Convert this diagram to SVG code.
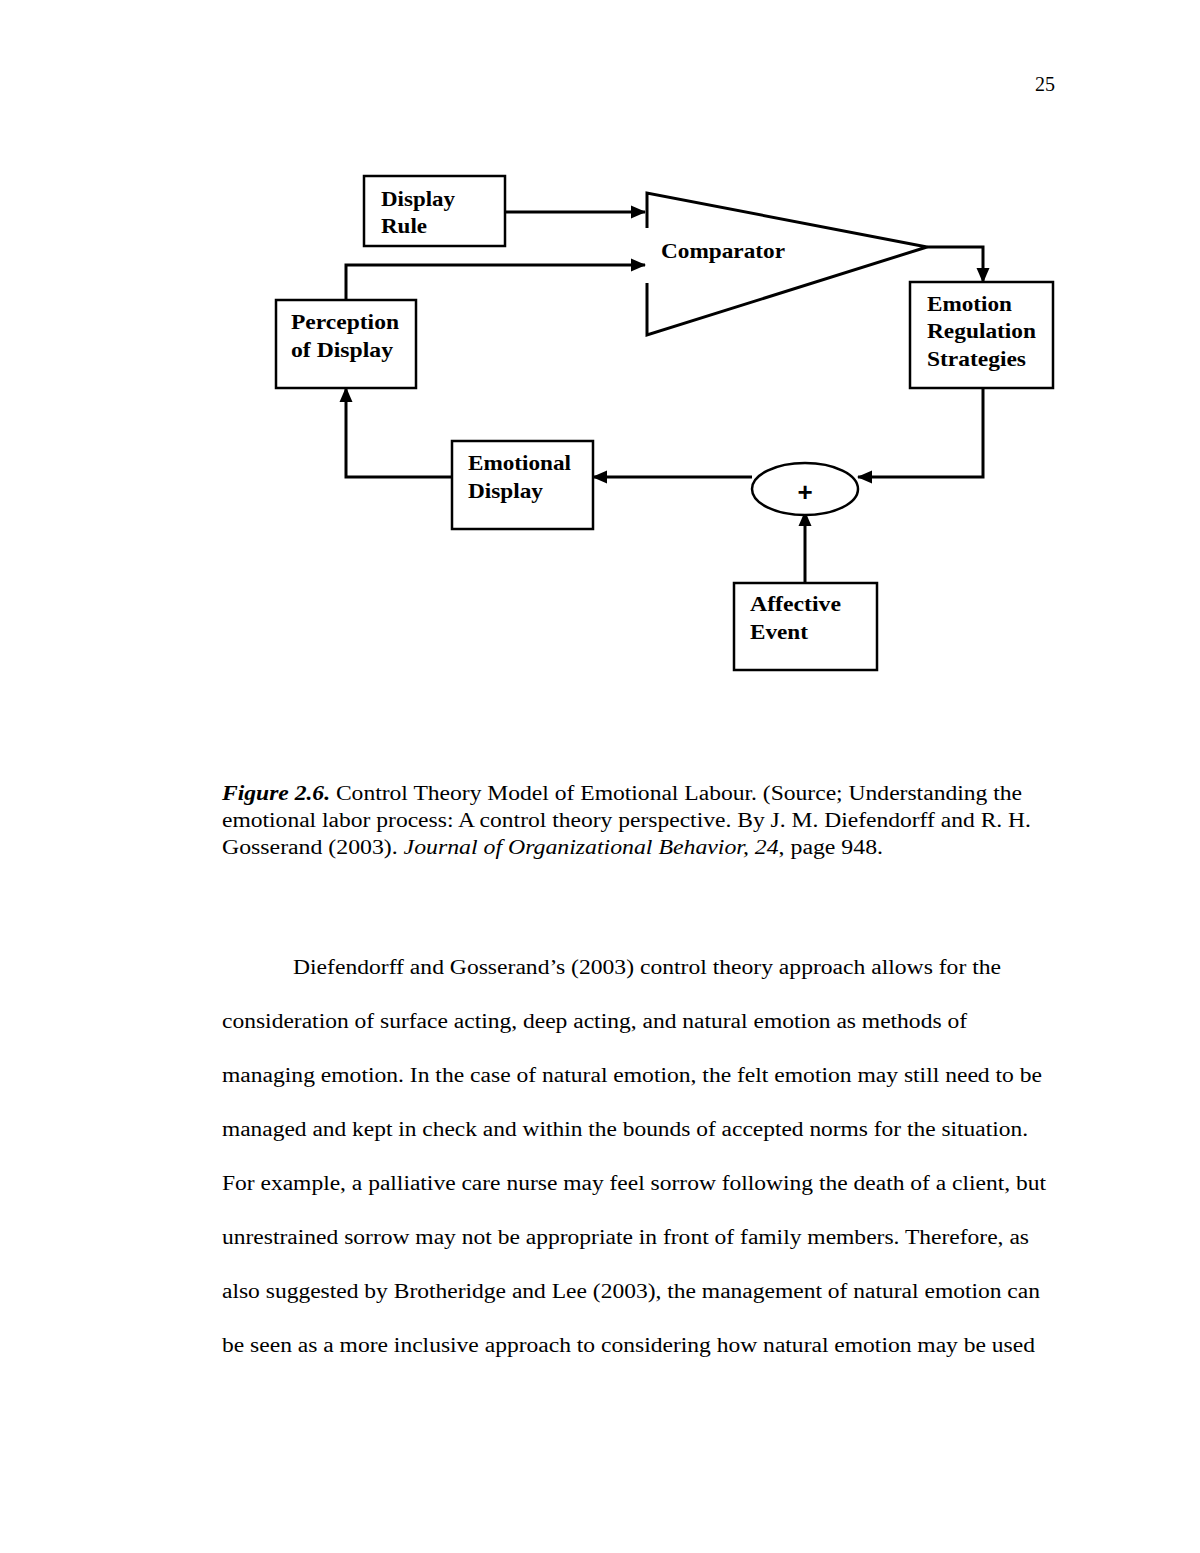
<svg xmlns="http://www.w3.org/2000/svg" width="1200" height="1553" viewBox="0 0 1200 1553">
<defs>
<marker id="ah" markerWidth="15" markerHeight="14" refX="14" refY="7" orient="auto" markerUnits="userSpaceOnUse" viewBox="0 0 15 14">
<path d="M0,0.5 L15,7 L0,13.5 z" fill="#000"/>
</marker>
<style>
.box{fill:#fff;stroke:#000;stroke-width:2.5}
.lbl{font-family:"Liberation Serif","Times New Roman",serif;font-weight:bold;font-size:21px;fill:#000}
.con{fill:none;stroke:#000;stroke-width:3}
.cap{font-family:"Liberation Serif","Times New Roman",serif;font-size:20px;fill:#000}
.body{font-family:"Liberation Serif","Times New Roman",serif;font-size:20px;fill:#000}
</style>
</defs>
<rect width="1200" height="1553" fill="#fff"/>
<text x="1035" y="91" class="cap">25</text>

<g id="connectors">
<path class="con" d="M505,212 L645,212" marker-end="url(#ah)"/>
<path class="con" d="M346,300 L346,265 L645,265" marker-end="url(#ah)"/>
<path class="con" d="M927,247 L983,247 L983,282" marker-end="url(#ah)"/>
<path class="con" d="M983,388 L983,477 L858,477" marker-end="url(#ah)"/>
<path class="con" d="M752,477 L593,477" marker-end="url(#ah)"/>
<path class="con" d="M805,583 L805,512" marker-end="url(#ah)"/>
<path class="con" d="M452,477 L346,477 L346,388" marker-end="url(#ah)"/>
</g>

<g id="display-rule">
<rect class="box" x="364" y="176" width="141" height="70"/>
<text class="lbl" x="381" y="206" textLength="74" lengthAdjust="spacingAndGlyphs">Display</text>
<text class="lbl" x="381" y="233" textLength="46" lengthAdjust="spacingAndGlyphs">Rule</text>
</g>

<g id="comparator">
<path class="con" d="M647,228 L647,193 L927,247 L647,335 L647,283"/>
<text class="lbl" x="661" y="258" textLength="124" lengthAdjust="spacingAndGlyphs">Comparator</text>
</g>

<g id="perception">
<rect class="box" x="276" y="300" width="140" height="88"/>
<text class="lbl" x="291" y="329" textLength="108" lengthAdjust="spacingAndGlyphs">Perception</text>
<text class="lbl" x="291" y="357" textLength="102" lengthAdjust="spacingAndGlyphs">of Display</text>
</g>

<g id="emotion-regulation">
<rect class="box" x="910" y="282" width="143" height="106"/>
<text class="lbl" x="927" y="311" textLength="85" lengthAdjust="spacingAndGlyphs">Emotion</text>
<text class="lbl" x="927" y="338" textLength="109" lengthAdjust="spacingAndGlyphs">Regulation</text>
<text class="lbl" x="927" y="366" textLength="99" lengthAdjust="spacingAndGlyphs">Strategies</text>
</g>

<g id="emotional-display">
<rect class="box" x="452" y="441" width="141" height="88"/>
<text class="lbl" x="468" y="470" textLength="103" lengthAdjust="spacingAndGlyphs">Emotional</text>
<text class="lbl" x="468" y="498" textLength="75" lengthAdjust="spacingAndGlyphs">Display</text>
</g>

<g id="sum">
<ellipse cx="805" cy="489" rx="53" ry="26" fill="#fff" stroke="#000" stroke-width="2.5"/>
<text x="805" y="501" text-anchor="middle" style="font-family:'Liberation Sans',Arial,sans-serif;font-weight:bold;font-size:26px">+</text>
</g>

<g id="affective-event">
<rect class="box" x="734" y="583" width="143" height="87"/>
<text class="lbl" x="750" y="611" textLength="91" lengthAdjust="spacingAndGlyphs">Affective</text>
<text class="lbl" x="750" y="639" textLength="58" lengthAdjust="spacingAndGlyphs">Event</text>
</g>

<g id="caption">
<text class="cap" x="222" y="800" textLength="800" lengthAdjust="spacingAndGlyphs"><tspan font-weight="bold" font-style="italic">Figure 2.6.</tspan> Control Theory Model of Emotional Labour. (Source; Understanding the</text>
<text class="cap" x="222" y="827" textLength="809" lengthAdjust="spacingAndGlyphs">emotional labor process: A control theory perspective. By J. M. Diefendorff and R. H.</text>
<text class="cap" x="222" y="854" textLength="661" lengthAdjust="spacingAndGlyphs">Gosserand (2003). <tspan font-style="italic">Journal of Organizational Behavior, 24</tspan>, page 948.</text>
</g>

<g id="body">
<text class="body" x="293" y="974" textLength="708" lengthAdjust="spacingAndGlyphs">Diefendorff and Gosserand’s (2003) control theory approach allows for the</text>
<text class="body" x="222" y="1028" textLength="745" lengthAdjust="spacingAndGlyphs">consideration of surface acting, deep acting, and natural emotion as methods of</text>
<text class="body" x="222" y="1082" textLength="820" lengthAdjust="spacingAndGlyphs">managing emotion. In the case of natural emotion, the felt emotion may still need to be</text>
<text class="body" x="222" y="1136" textLength="806" lengthAdjust="spacingAndGlyphs">managed and kept in check and within the bounds of accepted norms for the situation.</text>
<text class="body" x="222" y="1190" textLength="824" lengthAdjust="spacingAndGlyphs">For example, a palliative care nurse may feel sorrow following the death of a client, but</text>
<text class="body" x="222" y="1244" textLength="807" lengthAdjust="spacingAndGlyphs">unrestrained sorrow may not be appropriate in front of family members. Therefore, as</text>
<text class="body" x="222" y="1298" textLength="818" lengthAdjust="spacingAndGlyphs">also suggested by Brotheridge and Lee (2003), the management of natural emotion can</text>
<text class="body" x="222" y="1352" textLength="813" lengthAdjust="spacingAndGlyphs">be seen as a more inclusive approach to considering how natural emotion may be used</text>
</g>
</svg>
